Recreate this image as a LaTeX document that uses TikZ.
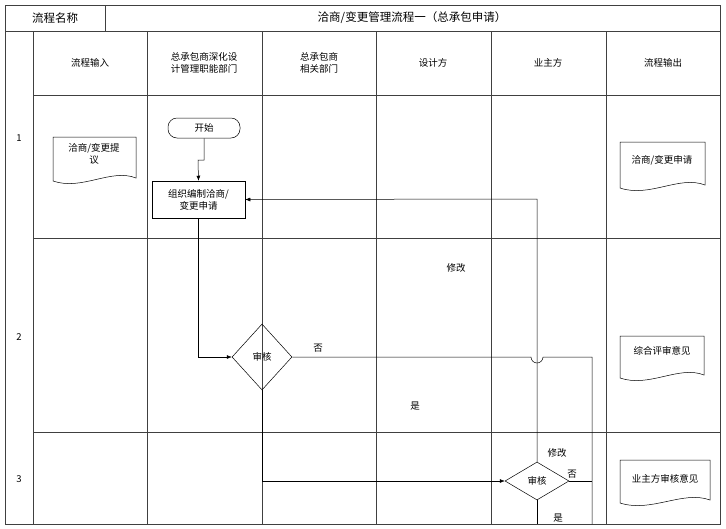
\documentclass[tikz,border=0pt]{standalone}
\usepackage{fontspec}
\setmainfont{Noto Sans CJK SC}
\usetikzlibrary{shapes.geometric,arrows.meta}
\begin{document}
\begin{tikzpicture}[x=1pt,y=-1pt,font=\fontsize{9.5}{12}\selectfont,
  grid/.style={line width=0.6pt,draw=black!75},
  conn/.style={line width=0.5pt},
  arr/.style={conn,-{Latex[length=5pt,width=4pt]}},
  lbl/.style={inner sep=1pt,align=center}]
\useasboundingbox (0,0) rectangle (726,528);
% table
\draw[grid] (5,5) rectangle (720,524);
\draw[grid] (5,31) -- (720,31);
\draw[grid] (105,5) -- (105,31);
\draw[grid] (33,31) -- (33,524);
\draw[grid] (33,95) -- (720,95);
\draw[grid] (33,238) -- (720,238);
\draw[grid] (33,432) -- (720,432);
\foreach \x in {147,262,376,491,606} \draw[grid] (\x,31) -- (\x,524);
\node[lbl,font=\fontsize{11.5}{13}\selectfont] (tname) at (55,18) {流程名称};
\node[lbl,font=\fontsize{11.5}{13}\selectfont] (title) at (412,18) {洽商/变更管理流程一（总承包申请）};
\node[lbl] (h1) at (90,63) {流程输入};
\node[lbl] (h2) at (204,63) {总承包商深化设\\计管理职能部门};
\node[lbl] (h3) at (319,63) {总承包商\\相关部门};
\node[lbl] (h4) at (433,63) {设计方};
\node[lbl] (h5) at (548,63) {业主方};
\node[lbl] (h6) at (663,63) {流程输出};
\node[lbl] (r1) at (19,138) {1};
\node[lbl] (r2) at (19,337) {2};
\node[lbl] (r3) at (19,479) {3};
% documents
\newcommand\docshp[4]{\draw[conn,fill=white] (#1,#2) -- (#3,#2) -- (#3,#4-3)
  .. controls ({#3-0.3*(#3-#1)},{#4-13}) and ({#1+0.35*(#3-#1)},{#4+10}) .. (#1,#4) -- cycle;}
\docshp{53}{137}{136}{181}
\node[lbl] (din) at (94,154) {洽商/变更提\\议};
\docshp{620}{142}{705}{188}
\node[lbl] (dout1) at (662,160) {洽商/变更申请};
\docshp{620}{336}{704}{378}
\node[lbl] (dout2) at (662,351) {综合评审意见};
\docshp{620}{460}{710}{503}
\node[lbl] (dout3) at (665,479) {业主方审核意见};
% flow
\node[draw,conn,rounded corners=9pt,minimum width=72pt,minimum height=20pt,inner sep=0pt] (start) at (204,128) {开始};
\node[draw,conn,minimum width=93pt,minimum height=37pt,inner sep=1pt,align=center] (apply) at (198.5,199.5) {组织编制洽商/\\变更申请};
\node[draw,conn,diamond,minimum width=60pt,minimum height=66pt,inner sep=0pt] (rev1) at (262,357) {审核};
\node[draw,conn,diamond,minimum width=64pt,minimum height=38pt,inner sep=0pt] (rev2) at (537,481) {审核};
\coordinate (e1) at (592,524);
\draw[arr] (start.south) -- (204,160) -- (198,160) -- (apply.north);
\draw[arr] (apply.south) |- (rev1.west);
\draw[conn] (rev1.east) -- (531,357) arc (180:0:6) -- (592,357) -- (e1);
\draw[arr] (rev2.north) -- (537,199) -- (apply.east);
\draw[arr] (rev1.south) |- (rev2.west);
\draw[conn] (rev2.east) -- (592,481);
\draw[conn] (rev2.south) -- (537,524);
\node[lbl] (l1) at (318,348) {否};
\node[lbl] (l2) at (456,268) {修改};
\node[lbl] (l3) at (415,406) {是};
\node[lbl] (l4) at (557,453) {修改};
\node[lbl] (l5) at (572,474) {否};
\node[lbl] (l6) at (558,518) {是};
\end{tikzpicture}
\end{document}
